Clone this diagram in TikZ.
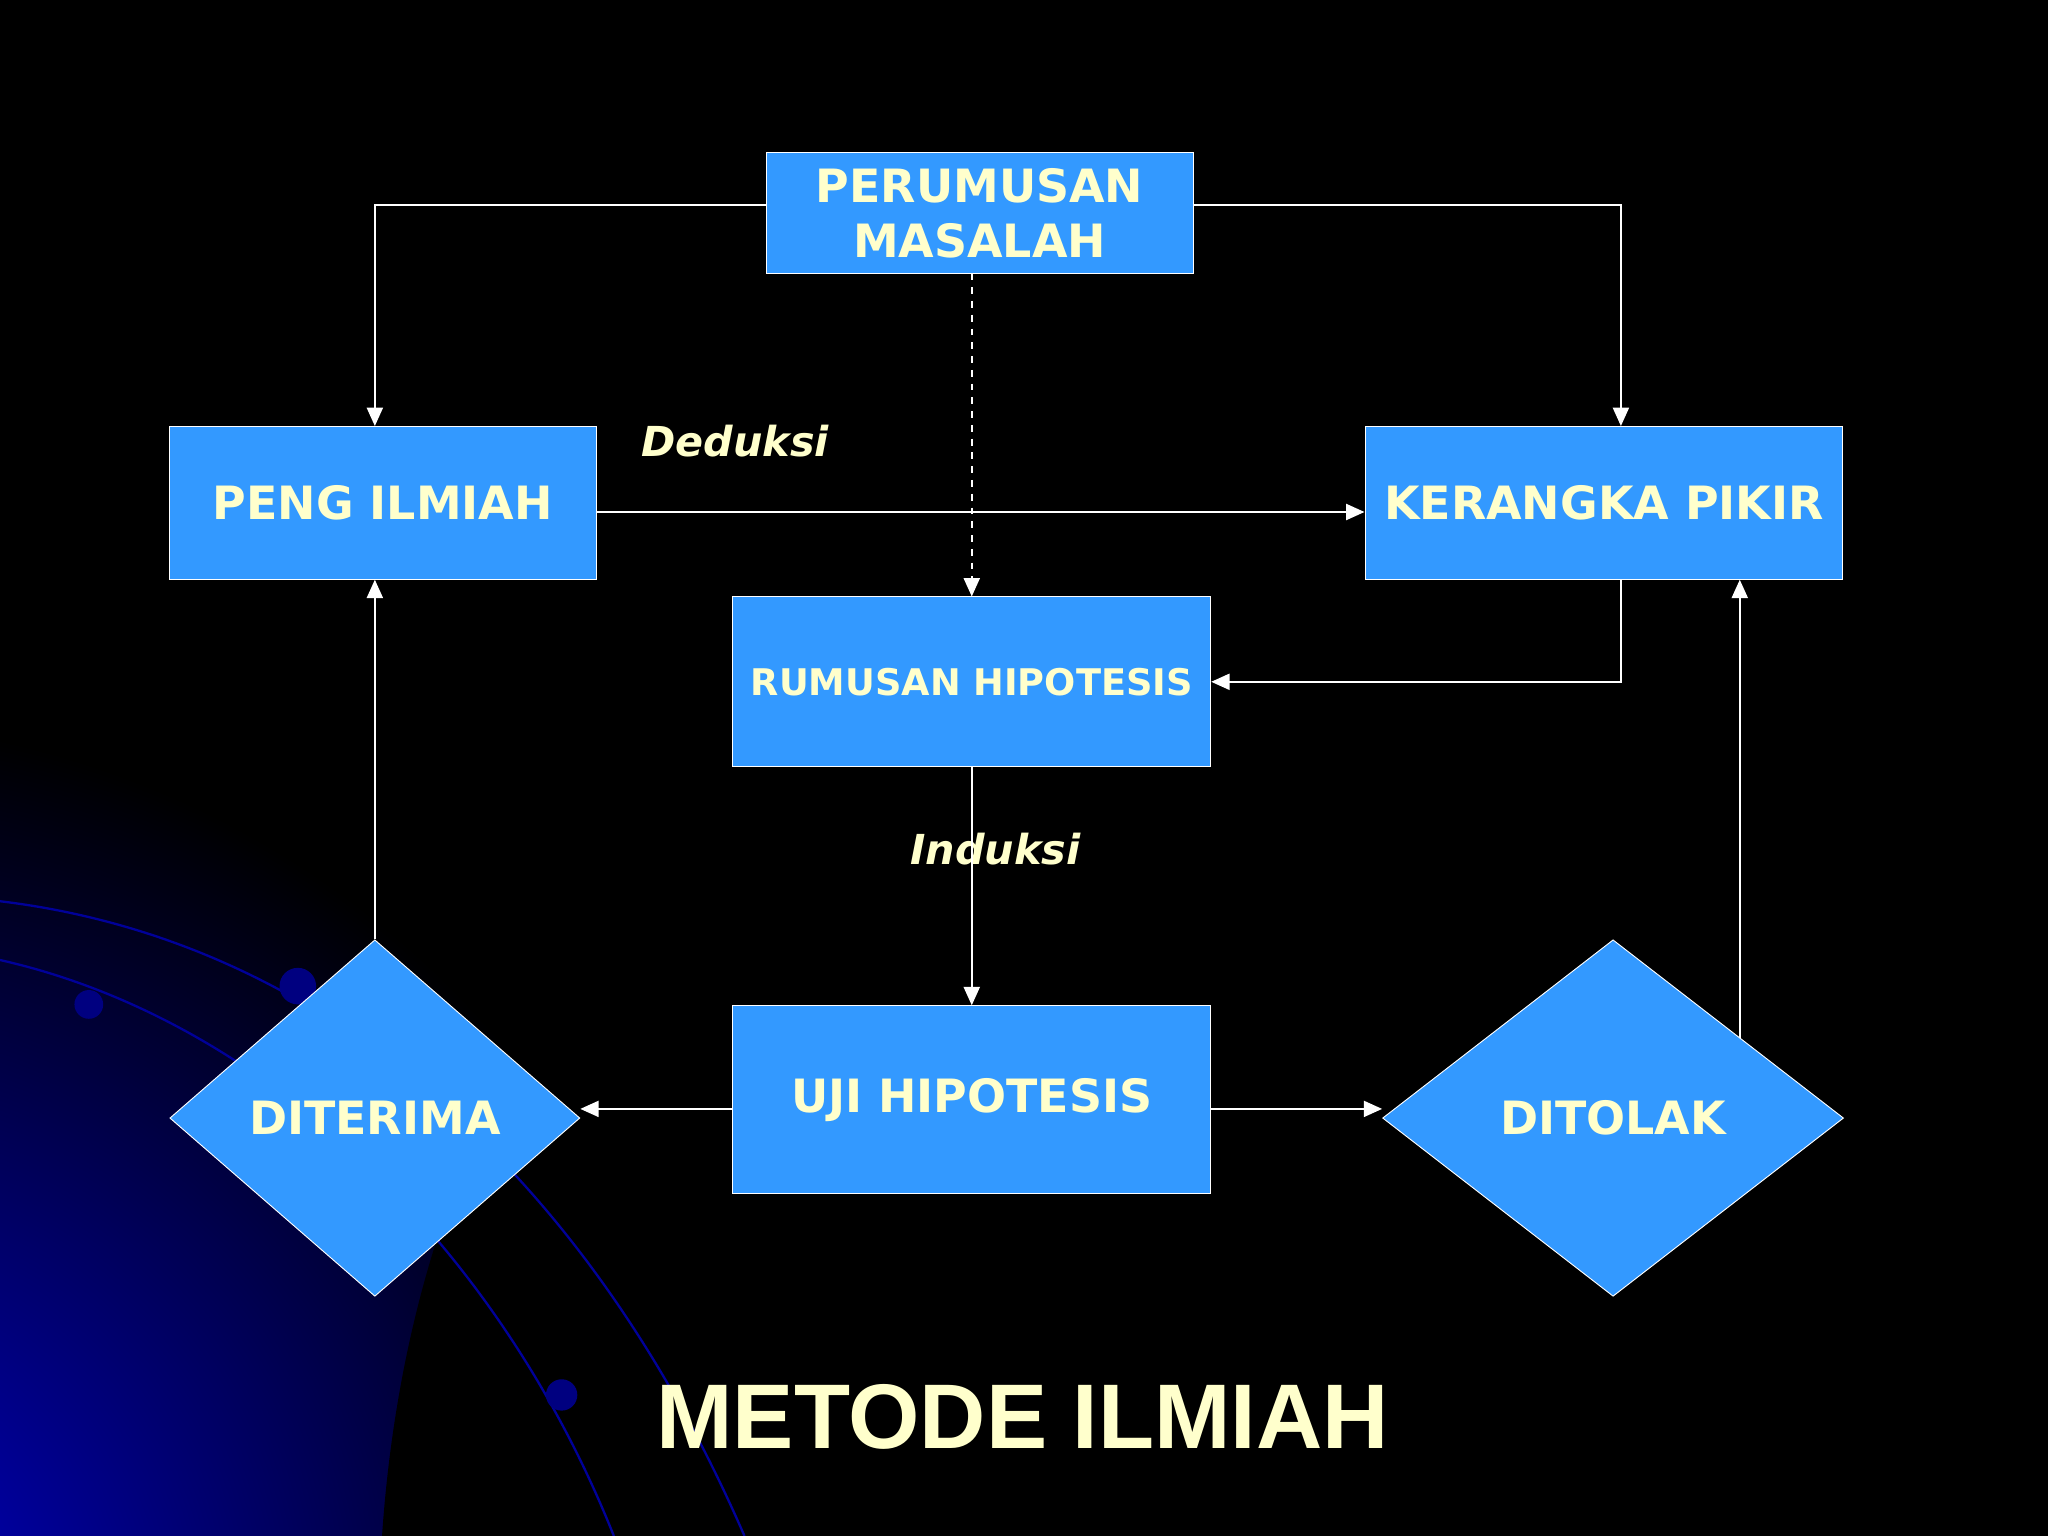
\documentclass[tikz,border=0pt]{standalone}
\usepackage{fontspec}
\setmainfont{DejaVu Sans}
\newfontfamily\titlefont{Liberation Sans}
\usetikzlibrary{shapes.geometric,arrows.meta}
\definecolor{boxblue}{HTML}{3399FF}
\definecolor{txt}{HTML}{FFFFCC}
\tikzset{
 box/.style={draw=white,fill=boxblue,text=txt,font=\bfseries\fontsize{20}{24}\selectfont,align=center,inner sep=0pt},
 dia/.style={diamond,draw=white,fill=boxblue,text=txt,font=\bfseries\fontsize{20}{24}\selectfont,inner sep=0pt,minimum width=6.28cm,minimum height=5.46cm},
 conn/.style={draw=white,line width=0.8pt,-{Triangle[length=8pt,width=7pt]}},
 lab/.style={text=txt,font=\bfseries\itshape\fontsize{18}{22}\selectfont}
}
\begin{document}
\begin{tikzpicture}[x=0.02cm,y=-0.02cm]
\fill[black] (0,0) rectangle (1568,1176);
\begin{scope}
\clip (0,0) rectangle (1568,1176);
\shade[inner color=blue!80!black,outer color=black] (-150,1250) circle (700);
\fill[black] (620,1250) ellipse (330 and 600);
\draw[blue!60!black,line width=1pt] (0,690) .. controls (250,720) and (450,900) .. (570,1176);
\draw[blue!60!black,line width=1pt] (0,735) .. controls (200,780) and (380,950) .. (470,1176);
\fill[blue!50!black] (68,769) circle (11);
\fill[blue!50!black] (228,755) circle (14);
\fill[blue!50!black] (430,1068) circle (12);
\end{scope}
\node[box,minimum width=6.54cm,minimum height=1.84cm] (pm) at (750,163) {PERUMUSAN\\MASALAH};
\node[box,minimum width=6.54cm,minimum height=2.34cm] (pi) at (293,385) {PENG ILMIAH};
\node[box,minimum width=7.32cm,minimum height=2.34cm] (kp) at (1228,385) {KERANGKA PIKIR};
\node[box,minimum width=7.32cm,minimum height=2.6cm,font=\bfseries\fontsize{16}{20}\selectfont] (rh) at (744,522) {RUMUSAN HIPOTESIS};
\node[box,minimum width=7.32cm,minimum height=2.88cm] (uh) at (744,842) {UJI HIPOTESIS};
\node[dia] (dt) at (287,856) {DITERIMA};
\node[dia,minimum width=7.06cm] (dk) at (1235,856) {DITOLAK};
\node[lab] (ded) at (563,338) {Deduksi};
\node[lab] (ind) at (762,650) {Induksi};
\node[text=txt,font=\titlefont\bfseries\fontsize{40}{46}\selectfont] (title) at (783,1085) {METODE ILMIAH};
\draw[conn] (pm.west|-0,157) -| (pi.north-|287,0);
\draw[conn] (pm.east|-0,157) -| (kp.north-|1241,0);
\draw[conn,dashed] (pm.south-|744,0) -- (rh.north);
\draw[conn] (pi.east|-0,392) -- (kp.west|-0,392);
\draw[conn] (kp.south-|1241,0) |- (rh.east);
\draw[conn] (rh.south) -- (uh.north);
\draw[conn] (uh.west|-0,849) -- (dt.east|-0,849);
\draw[conn] (uh.east|-0,849) -- (dk.west|-0,849);
\draw[conn] (dt.north) -- (pi.south-|287,0);
\coordinate (dkt) at (1332,795);
\draw[conn] (dkt) -- (kp.south-|1332,0);
\end{tikzpicture}
\end{document}
